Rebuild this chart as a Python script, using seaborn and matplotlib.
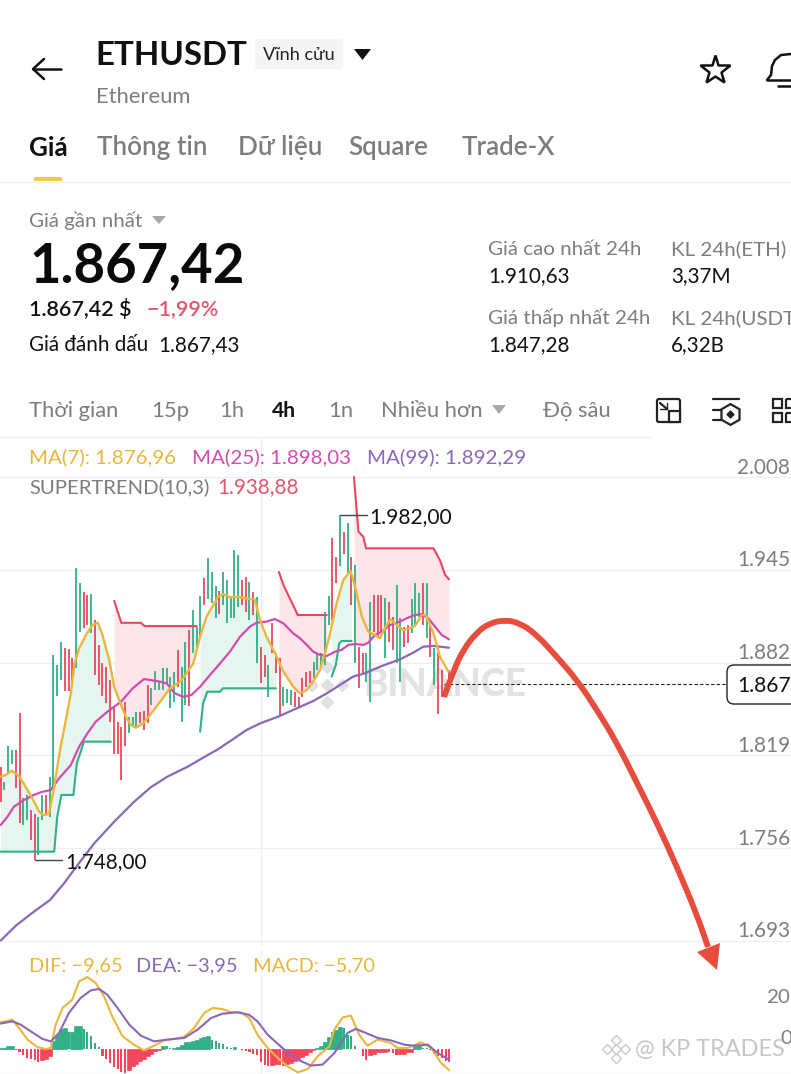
import numpy as np
import pandas as pd
import matplotlib
matplotlib.use("Agg")
import matplotlib.pyplot as plt
from matplotlib.patches import FancyBboxPatch, Rectangle, Polygon, PathPatch
from matplotlib.path import Path
import seaborn as sns

# candles (price)
candle_high = [1811.1, 1800.9, 1825.4, 1822.6, 1822.6, 1847.8, 1790.1, 1792.1, 1781.9, 1779.2,
               1777.2, 1792.1, 1792.1, 1804.3, 1887.2, 1880.4, 1896.0, 1891.9, 1891.2, 1885.1,
               1946.2, 1936.0, 1929.9, 1927.9, 1928.6, 1910.9, 1893.9, 1881.7, 1879.0, 1870.2,
               1851.2, 1841.7, 1838.3, 1855.2, 1845.0, 1845.0, 1848.4, 1848.4, 1849.1, 1866.8,
               1864.7, 1876.3, 1868.8, 1878.3, 1878.3, 1872.2, 1875.6, 1890.5, 1879.0, 1896.0,
               1904.1, 1917.7, 1906.2, 1927.2, 1939.4, 1953.0, 1943.5, 1934.0, 1930.6, 1943.5,
               1938.1, 1926.5, 1958.5, 1955.1, 1938.1, 1940.1, 1936.7, 1929.9, 1926.5, 1892.6,
               1887.2, 1880.4, 1908.9, 1888.5, 1885.1, 1865.4, 1864.1, 1863.4, 1862.0, 1858.6,
               1871.5, 1875.6, 1876.3, 1882.4, 1888.5, 1888.5, 1916.4, 1927.2, 1966.6, 1953.7,
               1982.0, 1970.7, 1976.8, 1953.7, 1948.3, 1892.6, 1888.5, 1888.5, 1923.1, 1927.9,
               1927.9, 1927.9, 1925.9, 1923.1, 1913.0, 1934.7, 1912.3, 1906.2, 1907.5, 1925.2,
               1936.0, 1929.2, 1936.0, 1936.0, 1907.5, 1891.9, 1888.5, 1877.0, 1865.4, 1877.0]
candle_low = [1787.3, 1795.5, 1807.0, 1813.1, 1796.8, 1773.1, 1771.7, 1775.1, 1761.5, 1748.0,
              1751.4, 1775.1, 1778.5, 1777.2, 1797.5, 1859.3, 1870.2, 1862.7, 1862.7, 1868.1,
              1878.3, 1902.8, 1905.5, 1907.5, 1902.1, 1873.6, 1866.8, 1859.3, 1854.6, 1841.7,
              1819.9, 1819.9, 1802.3, 1825.4, 1834.2, 1839.6, 1837.6, 1841.0, 1836.2, 1841.0,
              1853.2, 1863.4, 1863.4, 1863.4, 1866.8, 1851.2, 1855.2, 1865.4, 1841.7, 1853.2,
              1852.5, 1888.5, 1892.6, 1899.4, 1921.1, 1925.2, 1922.5, 1912.3, 1915.0, 1921.1,
              1908.9, 1912.3, 1912.3, 1919.7, 1921.1, 1916.4, 1910.9, 1914.3, 1881.7, 1868.1,
              1872.2, 1858.6, 1888.5, 1874.9, 1845.7, 1852.5, 1854.6, 1853.2, 1851.8, 1851.2,
              1858.6, 1865.4, 1868.1, 1871.5, 1877.0, 1879.0, 1880.4, 1907.5, 1910.9, 1936.0,
              1947.6, 1955.7, 1942.8, 1921.1, 1881.7, 1864.7, 1874.9, 1868.8, 1855.2, 1902.8,
              1899.4, 1902.1, 1885.1, 1896.0, 1890.5, 1881.7, 1868.8, 1892.6, 1895.3, 1902.1,
              1907.5, 1913.0, 1907.5, 1898.7, 1885.8, 1866.8, 1847.1, 1858.6, 1858.6, 1865.2]
candle_dir = list("rggg" "rrgg" "rrgg" "rggg" "grrrg" "grrg" "rrrrrrrr" "rgggrrrg" "ggggggrg" "grggg"
                  "rgggrgggg" "grrgrgrrg" "rrrgg" "grrrrrggggg" "rrgrgrgrr" "ggrrrgrrggrrgggrgr" "grrrrgrr")

# moving averages: (candle index, price)
ma7_x = [0, 1.3, 2.9, 4.9, 6.6, 8.4, 10.2, 11.3, 12.8, 14.2, 15.9, 17.3, 18.6, 19.6, 20.8, 22.6, 24.3, 25.8, 27,
         28.8, 30.1, 31.4, 33.2, 34.5, 35.8, 37.6, 39.6, 42.3, 44.9, 47.6, 49.3, 51.1, 52.9, 54.6, 56.4, 57.7,
         59, 60.8, 63, 65.2, 67.4, 68.8, 70.5, 72.8, 75, 77.6, 79.4, 81.2, 82.9, 84.7, 86, 87.4, 89.1, 90.9,
         92.8, 94, 95.8, 97.5, 99.3, 100.6, 101.9, 103.4, 105, 106.8, 108.6, 109.9, 111.7, 112.8, 114.8, 116.5, 118.7]
ma7_y = [1804.5, 1805.6, 1808.6, 1805, 1797.7, 1789.8, 1780.7, 1778.5, 1779.2, 1797.7, 1824.9, 1843, 1861.1,
         1881.4, 1891.6, 1900.7, 1907.5, 1909.1, 1900.7, 1883.7, 1865.6, 1856.6, 1845.2, 1839.6, 1837.8, 1840.3,
         1846.4, 1855.4, 1864.5, 1869, 1874.7, 1881.5, 1899.6, 1913.2, 1921.1, 1926.7, 1928.5, 1926.3, 1926.7,
         1925.6, 1924.9, 1910.9, 1899.6, 1888.3, 1875.8, 1865.6, 1861, 1863.4, 1869.1, 1877, 1888.3, 1901.9,
         1922.2, 1938.1, 1944.4, 1933.6, 1913.2, 1903, 1900.7, 1898.5, 1905.3, 1911.4, 1907.5, 1904.1, 1905.3,
         1906.9, 1914.3, 1914.3, 1901.9, 1886, 1875.9]
ma25_x = [0, 1.8, 3.5, 6.2, 8.8, 11.1, 13.3, 15.5, 18.6, 20.8, 23, 25.2, 28.3, 31.9, 35, 38, 39.6, 42.3, 44, 46.2,
          48.4, 50.6, 52.9, 55.5, 58.2, 60.8, 63.5, 66.1, 67.9, 70.5, 72.7, 75, 77.6, 79.4, 81.2, 82.9, 84.7,
          86.5, 88.7, 90.4, 92.2, 94, 96.2, 97.5, 99.3, 101.1, 103.3, 105.9, 107.7, 109.9, 111.7, 113.4, 115.2,
          117, 118.9]
ma25_y = [1771.7, 1777.3, 1784.1, 1788.7, 1792.1, 1794.3, 1795.4, 1803.4, 1812.4, 1824.9, 1833.9, 1841.8, 1848.6,
          1855.4, 1864.5, 1870.8, 1870.2, 1869, 1867.9, 1861.1, 1858.8, 1860, 1865.6, 1873.5, 1881.5, 1889.4,
          1899.6, 1906.4, 1909.1, 1909.8, 1911.6, 1908.6, 1901.9, 1898.5, 1894, 1889.4, 1887.2, 1886.5, 1889.4,
          1890.6, 1894, 1894.6, 1894, 1895.5, 1900.7, 1903, 1907.5, 1909.8, 1912.1, 1914.3, 1914.9, 1912.1,
          1906.4, 1900.7, 1897.8]
ma99_x = [0, 4, 8.8, 13.1, 16.8, 20.4, 24.8, 30.1, 35.4, 39.8, 44.2, 49.6, 54.9, 57.3, 61.3, 65.2, 68.8, 73.6,
          78.5, 82.9, 86.5, 90, 93.5, 96.6, 100.6, 105.9, 109.5, 112.1, 114.8, 118.9]
ma99_y = [1693.2, 1703.3, 1712.8, 1720.8, 1732.1, 1744.5, 1759.2, 1773.9, 1787.5, 1797.3, 1804.5, 1811.3, 1819.2,
          1822.6, 1829.4, 1836.2, 1840.7, 1845.3, 1850.9, 1855.9, 1861.1, 1866.8, 1872.5, 1874.7, 1879.2, 1884.2,
          1888.8, 1892.8, 1893.3, 1892.1]

# supertrend pieces
st_up = [([0, 14.2, 15, 16.1, 19.3, 20.2, 22.1, 29.2],
          [1753.6, 1753.6, 1777.3, 1792.1, 1792.1, 1813.6, 1828.3, 1828.3]),
         ([52.9, 53.7, 54.8, 58.2, 58.9, 73],
          [1835, 1854.3, 1862.2, 1862.2, 1864.5, 1864.5]),
         ([87.8, 88.9, 89.8, 90.5, 93.1],
          [1872.5, 1880.4, 1895.1, 1896.7, 1896.7])]
st_down = [([30.1, 32, 37.2, 38.2, 52],
            [1924, 1909, 1909, 1906.8, 1906.8]),
           ([73.8, 75, 78.8, 86.5],
            [1943.5, 1934.7, 1914.3, 1914.3]),
           ([93.7, 94.9, 96.2, 96.9, 114.8, 116.5, 117.9, 118.9],
            [2008, 1970.9, 1967.5, 1959.6, 1959.6, 1951.6, 1941.5, 1938.6])]

price_ticks = [2008, 1945, 1882, 1819, 1756, 1693]
price_labels = ["2.008", "1.945", "1.882", "1.819", "1.756", "1.693"]

# macd panel
macd_hist = [0.3, 0.3, 1.3, 1.6, -0.3, -1.6, -2.9, -4.2, -4.9, -5.5, -6.2, -5.5, -4.9, -3.6, 4.1, 6.8, 9.8, 10.1,
             8.5, 8.5, 11.4, 11.4, 9.8, 8.1, 6.2, 2.9, 1.0, -3.3, -4.9, -6.8, -8.9, -9.8, -11.1, -11.7, -10.1, -8.5,
             -7.5, -5.9, -4.9, -3.6, -2.3, -1.0, -0.3, 1.6, 1.3, 0.3, 0.7, 1.0, 2.0, 3.3, 3.6, 3.9, 4.6, 5.2, 5.9,
             6.2, 4.6, 3.9, 2.9, 2.3, 1.0, 0.3, 1.0, 0.2, -0.5, -1.0, -1.6, -2.3, -2.9, -6.5, -7.8, -8.1, -7.8,
             -7.5, -7.8, -7.8, -7.5, -6.8, -5.9, -4.9, -3.9, -2.9, -1.6, -0.7, 0.7, 1.6, 3.3, 5.7, 8.1, 9.1, 10.7,
             10.1, 6.8, 6.2, 1.6, -0.2, -3.3, -5.2, -2.9, -2.3, -1.6, -1.6, -1.3, -1.6, -2.0, -2.9, -2.3, -2.3,
             -1.6, -1.3, 1.3, 1.3, 0.7, 0.3, -0.7, -2.6, -3.6, -4.6, -5.9, -6.5]
dif_x = [0, 3.1, 4.9, 7.1, 9.7, 11.9, 13.3, 14.6, 16.4, 19, 20.8, 23, 25.2, 27.4, 29.6, 32.3, 35.4, 38, 40.7, 43.4,
         46, 48.7, 51.3, 54, 56.2, 58.8, 61.1, 63.7, 65.9, 68.1, 70.8, 73.5, 76.1, 78.8, 81.4, 84.1, 87.2, 88.5,
         90.7, 92.9, 95.1, 97.3, 100, 103.5, 105.3, 108, 111.5, 114.2, 116.8, 119]
dif_y = [13.0, 14.3, 10.2, 4.6, 1.0, 0, 0.5, 11.9, 20, 24.1, 33, 35.1, 32.2, 25.7, 15.9, 6.2, 2.1, -0.7, 1.6, 4.2,
         4.9, 5.9, 10.2, 17.6, 20, 19.5, 17.9, 17.9, 15.1, 7, 0.5, -4.4, -8.5, -11.4, -9.8, -3.6, 1.3, 9.4, 15.4,
         16.3, 7, 1.6, 4.6, 2.9, 0.5, 0.5, 3.3, 0.5, -6.8, -10.4]
dea_x = [0, 3.1, 5.3, 8, 11.1, 13.3, 15.5, 18.1, 21.2, 23.9, 26.1, 28.3, 31, 34.1, 37.2, 40.7, 44.2, 48.7, 52.2,
         55.8, 58.8, 62.8, 65.9, 68.1, 70.8, 75.2, 78.8, 82.3, 85.4, 88.5, 92, 94.2, 96.9, 100, 103.5, 107.1,
         109.7, 113.3, 115.9, 119]
dea_y = [12.4, 13.5, 11.9, 8.6, 4.9, 3.7, 7.8, 17.6, 24.9, 28.6, 29.3, 26.5, 20, 11.9, 6.5, 3.7, 4.6, 5.4, 9.4,
         15.1, 17.2, 17.9, 16.7, 13.5, 7, -0.3, -5.2, -8.1, -7.6, -2, 7.8, 9.8, 7.8, 5.4, 4.2, 2.1, 1.6, 2.1, -2,
         -5.2]

# hand drawn arrow on top of the chart, in picture pixels
arrow_x = [444, 453, 463, 477, 490, 505, 520, 537, 557, 577, 597, 617, 637, 657, 677, 697, 708]
arrow_y = [697, 672, 650, 632, 623, 620, 623, 635, 657, 680, 710, 743, 783, 823, 867, 915, 947]

GREEN = "#2fb085"
RED = "#e8485f"
HIST_RED = "#f5455c"
YELLOW = "#eab63c"
MAGENTA = "#d24bb0"
PURPLE = "#8b67b8"
GRAY = "#7d7d7d"
INK = "#111111"
W, H = 791, 1074

sns.set_theme(style="white")
plt.rcParams["font.family"] = ["Lato", "Open Sans", "DejaVu Sans"]

fig = plt.figure(figsize=(7.91, 10.74), dpi=100)


def add_panel(top, bottom):
    a = fig.add_axes([0, 1 - bottom / H, 1, (bottom - top) / H])
    a.patch.set_alpha(0)
    return a


ax1 = add_panel(437, 945)
ax2 = add_panel(950, 1074)
ui = fig.add_axes([0, 0, 1, 1], zorder=10)
ui.set_xlim(0, W)
ui.set_ylim(H, 0)
ui.axis("off")
ui.patch.set_alpha(0)


def put(x, y, s, size=20.5, color=GRAY, weight="normal"):
    ui.text(x, y + 1.2, s, fontsize=size * 0.72, color=color, fontweight=weight, va="center", ha="left", clip_on=True)


xlim = (-0.178, 209.63)

# ---- main panel
ax1.set_xlim(xlim)
ax1.set_ylim(1690.2, 2035.2)
ax1.set_yticks(price_ticks)
ax1.set_xticks([])
ax1.tick_params(length=0, labelleft=False)
ax1.grid(axis="y", color="#efefef", lw=0.9)
ax1.set_axisbelow(True)
sns.despine(ax=ax1, left=True, bottom=True)
ax1.axvline(69, color="#efefef", lw=0.9, zorder=0)

# shaded supertrend zones
for xs, ys in st_up:
    grid = np.linspace(xs[0], xs[-1], 80)
    ax1.fill_between(grid, np.interp(grid, xs, ys), np.interp(grid, ma7_x, ma7_y), color="#e6f5f0", lw=0, zorder=1)
for n, (xs, ys) in enumerate(st_down):
    grid = np.linspace(xs[0], xs[-1], 80)
    bx, by = (ma25_x, ma25_y) if n == 2 else (ma7_x, ma7_y)
    ax1.fill_between(grid, np.interp(grid, xs, ys), np.interp(grid, bx, by), color="#fce6ea", lw=0, zorder=1)

# watermark
ax1.text(96.2, 1867, "BINANCE", fontsize=26.5, fontweight=900, color="#e2e2e2", va="center", zorder=1.5)
ax1.plot([86.5, 82.5, 90.5, 86.5, 86.5], [1867, 1867, 1867, 1879, 1855], ls="none", marker="D", ms=6, color="#e0e0e0", zorder=1.5)

# candles
idx = np.arange(len(candle_high))
cols = [GREEN if d == "g" else RED for d in candle_dir]
ax1.vlines(idx, candle_low, candle_high, colors=cols, lw=1.3, zorder=2)

for xs, ys in st_up:
    sns.lineplot(x=xs, y=ys, color=GREEN, lw=1.5, ax=ax1, zorder=3, sort=False, errorbar=None)
for xs, ys in st_down:
    sns.lineplot(x=xs, y=ys, color=RED, lw=1.5, ax=ax1, zorder=3, sort=False, errorbar=None)
sns.lineplot(x=ma99_x, y=ma99_y, color=PURPLE, lw=1.6, ax=ax1, zorder=4, errorbar=None)
sns.lineplot(x=ma25_x, y=ma25_y, color=MAGENTA, lw=1.6, ax=ax1, zorder=4, errorbar=None)
sns.lineplot(x=ma7_x, y=ma7_y, color=YELLOW, lw=1.7, ax=ax1, zorder=5, errorbar=None)

# last price line
ax1.plot([117.5, 192.7], [1867.4, 1867.4], color="#222222", lw=0.8, ls=(0, (3, 2)), zorder=6)

# high / low labels
ax1.plot([90, 97.2], [1982, 1982], color="#444444", lw=1, zorder=6)
ax1.plot([9, 16.3], [1748, 1748], color="#444444", lw=1, zorder=6)
put(369, 516, "1.982,00", 21, INK)
put(65, 861, "1.748,00", 20.6, INK)

for p, lab in zip(price_ticks, price_labels):
    ax1.annotate(lab, (737 / W, p), xycoords=ax1.get_yaxis_transform(), xytext=(0, 9.5), textcoords="offset pixels",
                 fontsize=20.8 * 0.72, color=GRAY, va="center", zorder=7)

# ---- macd panel
ax2.set_xticks([])
ax2.set_yticks([])
sns.despine(ax=ax2, left=True, bottom=True)
ax2.axvline(69, color="#efefef", lw=0.9, zorder=0)
hist = pd.DataFrame({"i": np.arange(len(macd_hist)), "v": macd_hist})
hist["rising"] = hist["v"].diff().fillna(0) >= 0
hist["up"] = hist["v"] >= 0
for up, col in [(True, GREEN), (False, HIST_RED)]:
    for rising, bar_w in [(True, 1.0), (False, 0.55)]:
        part = hist[(hist["up"] == up) & (hist["rising"] == rising)]
        edge = 0.5 if rising else 0
        sns.barplot(data=part, x="i", y="v", native_scale=True, color=col, width=bar_w, saturation=1,
                    edgecolor=col, linewidth=edge, errorbar=None, ax=ax2)
sns.lineplot(x=dif_x, y=dif_y, color=YELLOW, lw=1.5, ax=ax2, errorbar=None)
sns.lineplot(x=dea_x, y=dea_y, color=PURPLE, lw=1.5, ax=ax2, errorbar=None)
ax2.set_xlim(xlim)
ax2.set_ylim(-12.2, 48.3)
ax2.set_xlabel("")
ax2.set_ylabel("")
ax2.axhline(-12, color="#eeeeee", lw=0.9)

# ---- header
ui.plot([33, 61], [69, 69], color=INK, lw=1.8)
ui.plot([44, 33, 44], [59, 69, 79], color=INK, lw=1.8)
put(95, 54.5, "ETHUSDT", 33, INK, "bold")
ui.add_patch(FancyBboxPatch((258, 42), 82, 24, boxstyle="round,pad=3,rounding_size=4", fc="#f5f5f5", ec="none"))
put(263, 53.5, "Vĩnh cửu", 18.2, "#222222")
ui.add_patch(Polygon([(354, 49), (371, 49), (362.5, 60)], fc=INK, ec="none"))
put(96, 95.5, "Ethereum", 22, GRAY)
ui.plot([715], [70], marker="*", ms=22, mfc="white", mec=INK, mew=1.8)
ui.plot([767, 771, 772, 775, 781, 791], [80, 75, 66, 60, 55, 54], color=INK, lw=1.8)
ui.plot([767, 791], [80, 80], color=INK, lw=1.8)
ui.plot([778, 791], [86, 86], color=INK, lw=1.8)

put(29, 146.5, "Giá", 26, INK, "bold")
for x, s in [(97, "Thông tin"), (238, "Dữ liệu"), (348, "Square"), (462, "Trade-X")]:
    put(x, 146.5, s, 26, GRAY, "semibold")
ui.add_patch(Rectangle((34, 177), 28, 4, fc="#f3cc3c", ec="none"))
ui.plot([0, W], [182, 182], color="#f0f0f0", lw=1)

put(29, 220, "Giá gần nhất")
ui.add_patch(Polygon([(152, 216), (166, 216), (159, 224)], fc="#a8a8a8", ec="none"))
put(29, 265, "1.867,42", 54.5, "#0a0a0a", "bold")
put(29, 308, "1.867,42 $", 21.5, INK, "semibold")
put(147, 308, "\u22121,99%", 21.5, "#e0566c", "semibold")
put(29, 344, "Giá đánh dấu", 20.7, INK)
put(158, 344, "1.867,43", 20.7, INK)

put(488, 248, "Giá cao nhất 24h")
put(488, 275, "1.910,63", 20.7, INK)
put(488, 317, "Giá thấp nhất 24h")
put(488, 344, "1.847,28", 20.7, INK)
put(671, 248, "KL 24h(ETH)")
put(671, 275, "3,37M", 20.7, INK)
put(671, 317, "KL 24h(USDT)")
put(671, 344, "6,32B", 20.7, INK)

for x, s in [(29, "Thời gian"), (151, "15p"), (219, "1h"), (328, "1n"), (381, "Nhiều hơn"), (543, "Độ sâu")]:
    put(x, 410, s, 22, GRAY)
put(272, 410, "4h", 21, INK, "bold")
ui.add_patch(Polygon([(492, 405), (506, 405), (499, 414)], fc="#a8a8a8", ec="none"))
ui.plot([0, 650], [437, 437], color="#f0f0f0", lw=1)

# toolbar icons
ui.add_patch(FancyBboxPatch((657, 399), 23, 23, boxstyle="round,pad=0,rounding_size=2", fc="none", ec="#222222", lw=1.6))
ui.add_patch(Rectangle((669, 411), 11, 11, fc="white", ec="#222222", lw=1.6))
ui.plot([660, 667], [403, 409], color="#222222", lw=1.6)
ui.plot([660, 667, 667], [409, 409, 403], color="#222222", lw=1.0)
ui.plot([713, 739], [399, 399], color="#222222", lw=1.6)
ui.plot([713, 722], [410, 410], color="#222222", lw=1.6)
ui.plot([713, 722], [420, 420], color="#222222", lw=1.6)
ui.plot([730], [414], marker="h", ms=15, mfc="white", mec="#222222", mew=1.6)
ui.plot([730], [414], marker="D", ms=3.5, color="#222222")
for x0 in (773, 786):
    for y0 in (399, 413):
        ui.add_patch(Rectangle((x0, y0), 9, 9, fc="none", ec="#222222", lw=1.6))

# chart legends
put(29, 456, "MA(7): 1.876,96", 20.5, YELLOW)
put(192, 456, "MA(25): 1.898,03", 20.5, MAGENTA)
put(367, 456, "MA(99): 1.892,29", 20.5, PURPLE)
put(29, 486, "SUPERTREND(10,3)", 20.3, GRAY)
put(217, 486, "1.938,88", 20.7, "#e0566c")
put(29, 965, "DIF: \u22129,65", 20, YELLOW)
put(136, 965, "DEA: \u22123,95", 20, PURPLE)
put(253, 965, "MACD: \u22125,70", 20, YELLOW)
put(766, 996, "20", 20.5)
put(780, 1037, "0", 20.5)

# price tag
ui.add_patch(FancyBboxPatch((727, 665), 80, 39, boxstyle="round,pad=0,rounding_size=7", fc="white", ec="#222222", lw=1))
put(737, 684.5, "1.867", 21, INK)

# red arrow, smoothed through its read points
pts = list(zip(arrow_x, arrow_y))
verts, codes = [pts[0]], [Path.MOVETO]
for a, b in zip(pts[1:-1], pts[2:]):
    verts += [a, ((a[0] + b[0]) / 2, (a[1] + b[1]) / 2)]
    codes += [Path.CURVE3, Path.CURVE3]
verts.append(pts[-1])
codes.append(Path.LINETO)
ui.add_patch(PathPatch(Path(verts, codes), fc="none", ec="#e74c3c", lw=4.2, capstyle="butt", joinstyle="round"))
ui.add_patch(Polygon([(697, 952), (720, 943), (717, 970)], fc="#e74c3c", ec="none"))

# bottom watermark
put(635, 1048, "@ KP TRADES", 23.5, "#c6c6c6")
for dx, dy in [(0, -9), (-9, 0), (9, 0), (0, 9), (0, 0)]:
    ui.plot([616 + dx], [1049 + dy], marker="D", ms=5.5, mfc="white", mec="#c9c9c9", mew=1)

fig.savefig("out.png", dpi=100)
plt.close(fig)
